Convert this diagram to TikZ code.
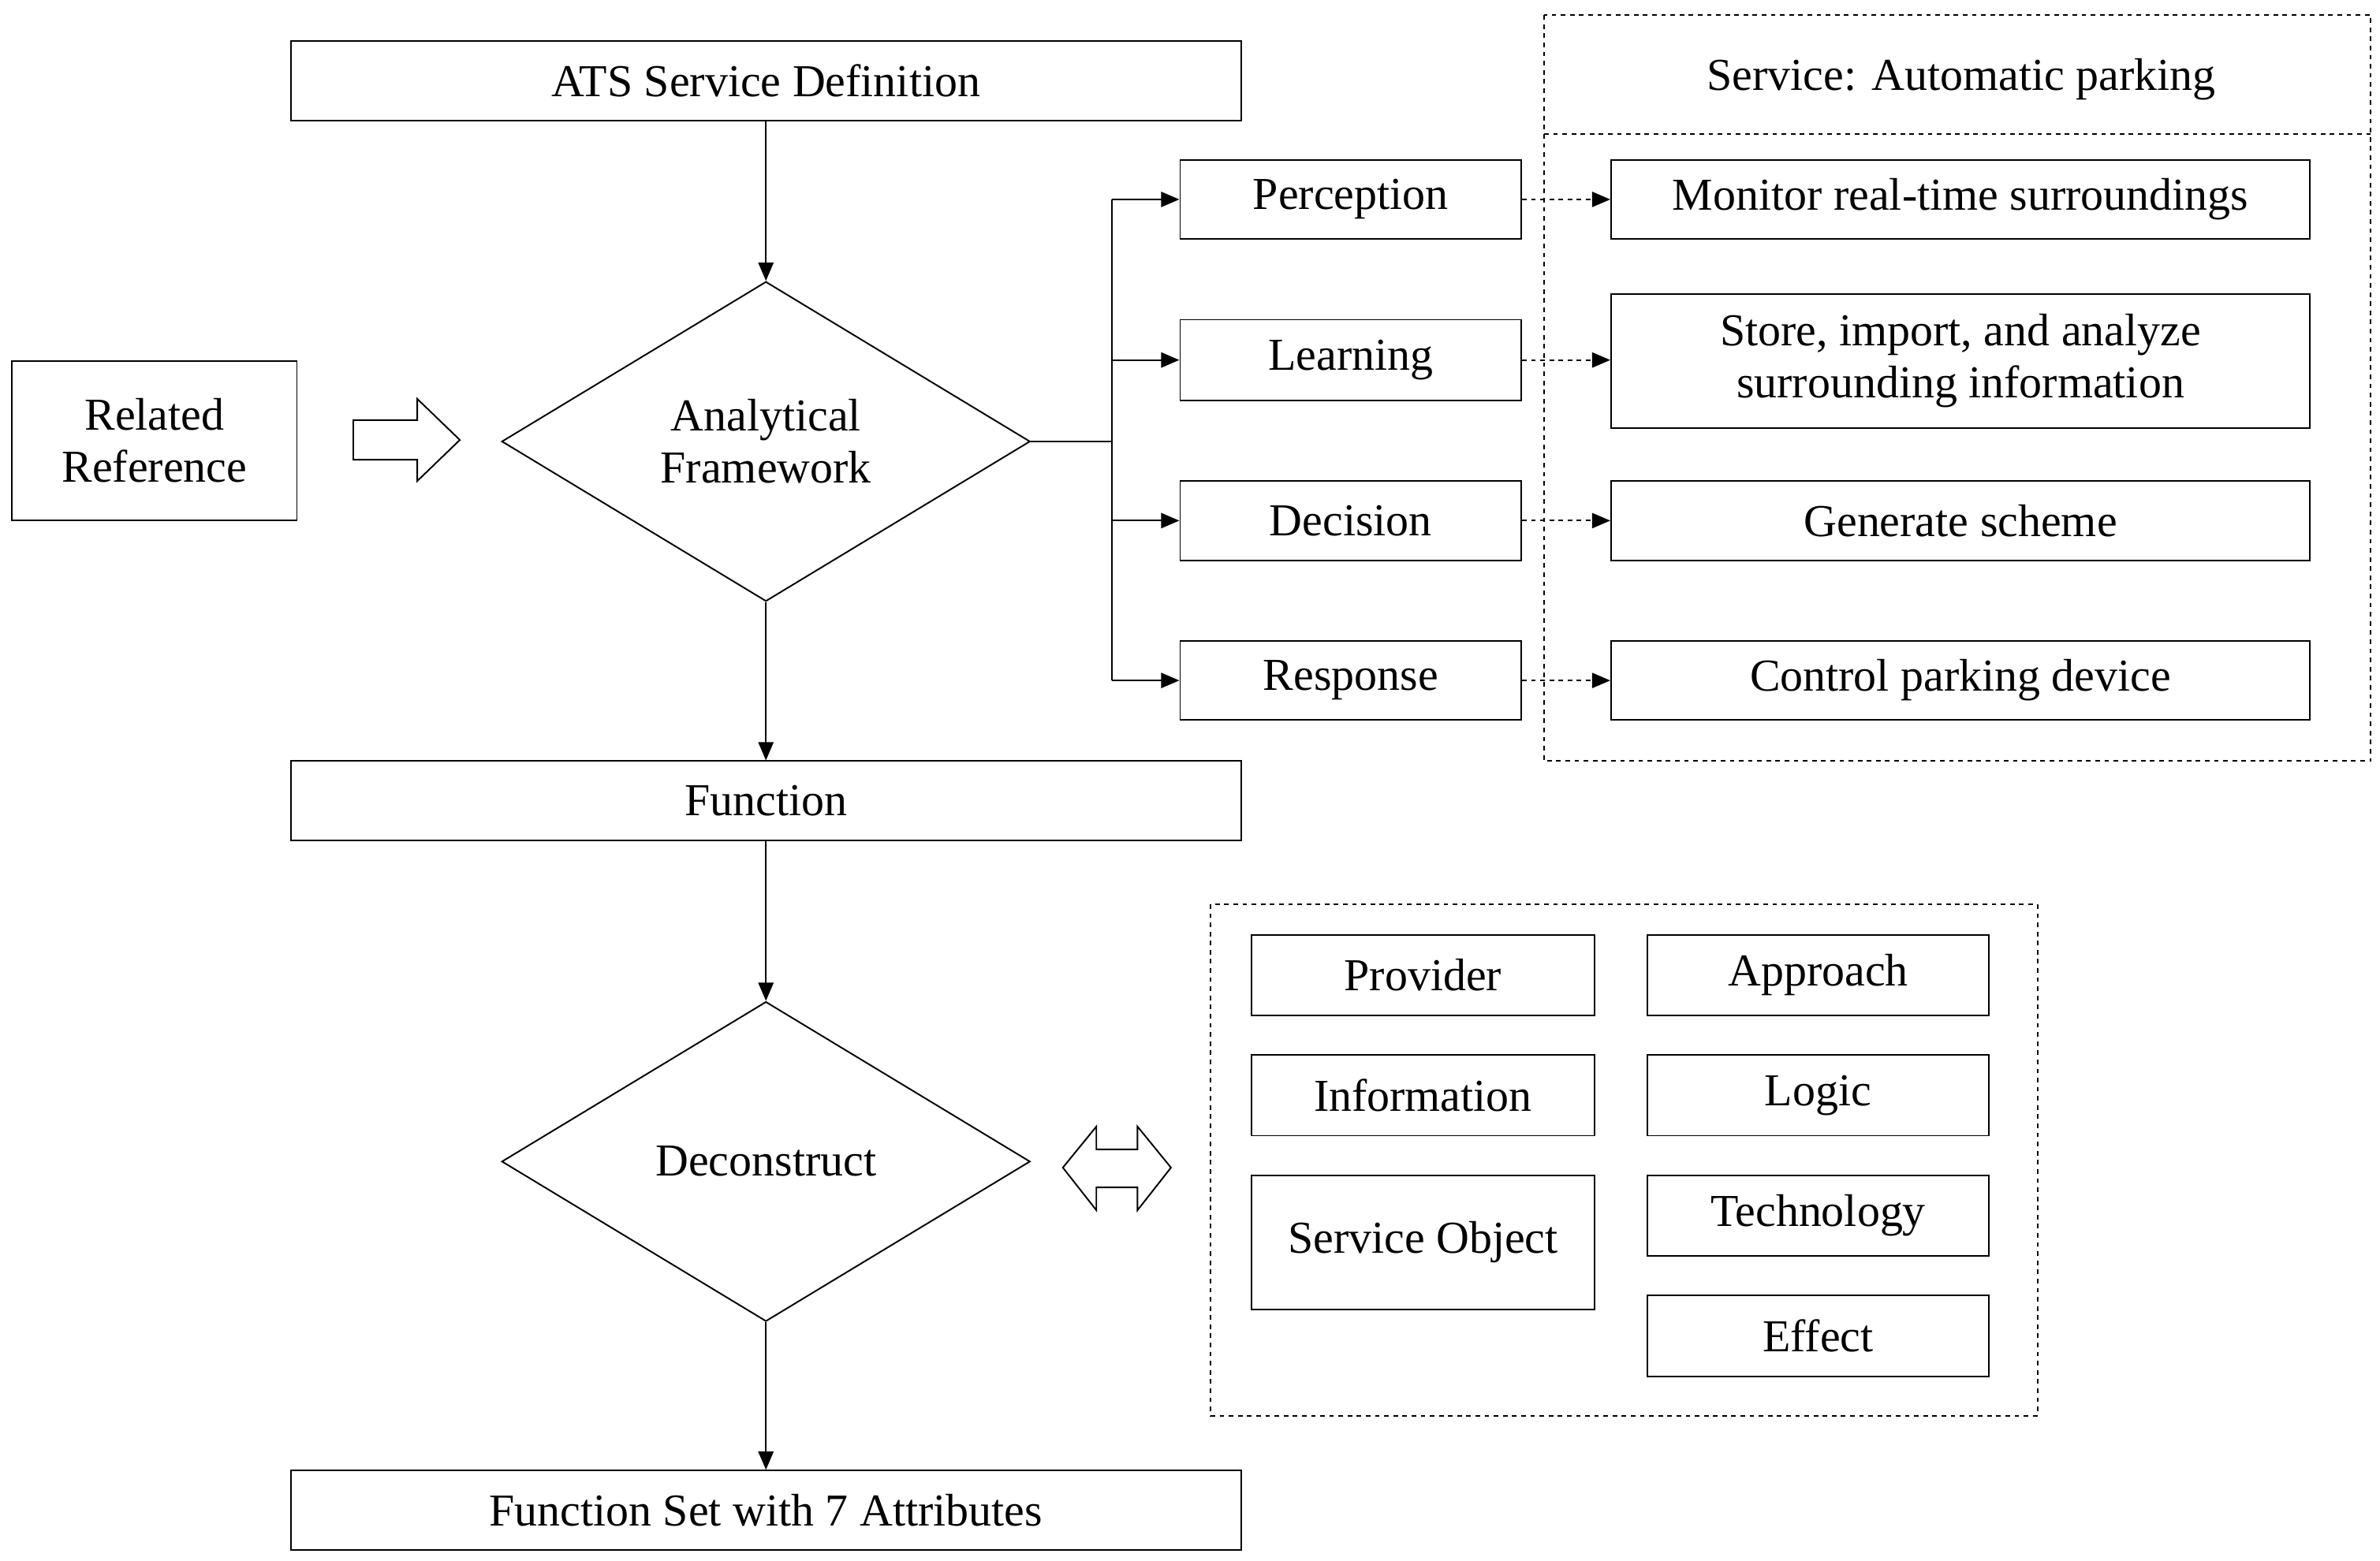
\documentclass[tikz,border=0pt]{standalone}
\usepackage{fontspec}
\setmainfont{Liberation Serif}
\usetikzlibrary{shapes.geometric,arrows.meta}
\begin{document}
\begin{tikzpicture}[x=1pt,y=-1pt,
  every node/.style={font=\fontsize{30}{34}\selectfont},
  bx/.style={draw,line width=1pt,inner sep=0pt,align=center},
  dm/.style={draw,line width=1pt,diamond,aspect=1.65,minimum width=347pt,minimum height=210pt,inner sep=0pt,align=center},
  arr/.style={line width=1pt,-{Triangle[length=12pt,width=10pt]}},
  darr/.style={line width=1pt,dashed,-{Triangle[length=12pt,width=10pt]}},
  dbox/.style={draw,line width=1pt,dashed}]
\useasboundingbox (0,0) rectangle (1563,1025);
\newcommand{\bxat}[5]{\node[bx,minimum width=#3pt-#2pt,minimum height=#5pt-#4pt] (#1) at ({(#2+#3)/2},{(#4+#5)/2})}
\bxat{ats}{191}{815}{27}{79}{ATS Service Definition};
\node[dm] (af) at (503,290) {Analytical\\Framework};
\bxat{rr}{8}{195}{237}{342}{Related\\Reference};
\bxat{fn}{191}{815}{500}{552}{Function};
\node[dm] (dc) at (503,763) {Deconstruct};
\bxat{fs}{191}{815}{966}{1018}{Function Set with 7 Attributes};
\bxat{pe}{775}{999}{105}{157}{Perception};
\bxat{le}{775}{999}{210}{263}{Learning};
\bxat{de}{775}{999}{316}{368}{Decision};
\bxat{re}{775}{999}{421}{473}{Response};
\bxat{m1}{1058}{1517}{105}{157}{Monitor real-time surroundings};
\bxat{m2}{1058}{1517}{193}{281}{Store, import, and analyze\\surrounding information};
\bxat{m3}{1058}{1517}{316}{368}{Generate scheme};
\bxat{m4}{1058}{1517}{421}{473}{Control parking device};
\draw[dbox] (1014,10) rectangle (1557,500);
\draw[line width=1pt,dashed] (1014,88) -- (1557,88);
\node (st) at (1288,52) {Service: Automatic parking};
\draw[dbox] (795,594) rectangle (1338,930);
\bxat{p1}{822}{1047}{614}{667}{Provider};
\bxat{p2}{822}{1047}{693}{746}{Information};
\bxat{p3}{822}{1047}{772}{860}{Service Object};
\bxat{q1}{1082}{1306}{614}{667}{Approach};
\bxat{q2}{1082}{1306}{693}{746}{Logic};
\bxat{q3}{1082}{1306}{772}{825}{Technology};
\bxat{q4}{1082}{1306}{851}{904}{Effect};
\draw[arr] (ats) -- (af);
\draw[arr] (af) -- (fn);
\draw[arr] (fn) -- (dc);
\draw[arr] (dc) -- (fs);
\coordinate (br) at (730,290);
\draw[line width=1pt] (af.east) -- (br);
\draw[line width=1pt] (730,131) -- (730,447);
\foreach \b in {pe,le,de,re} \draw[arr] (730,0 |- \b.west) -- (\b.west);
\draw[darr] (pe) -- (m1);
\draw[darr] (le) -- (le -| m2.west);
\draw[darr] (de) -- (m3);
\draw[darr] (re) -- (m4);
\draw[line width=1pt] (232,276) -- (274,276) -- (274,262) -- (302,289) -- (274,316) -- (274,302) -- (232,302) -- cycle;
\draw[line width=1pt] (698,767) -- (720,740) -- (720,755) -- (747,755) -- (747,740) -- (769,767) -- (747,795) -- (747,780) -- (720,780) -- (720,795) -- cycle;
\end{tikzpicture}
\end{document}
